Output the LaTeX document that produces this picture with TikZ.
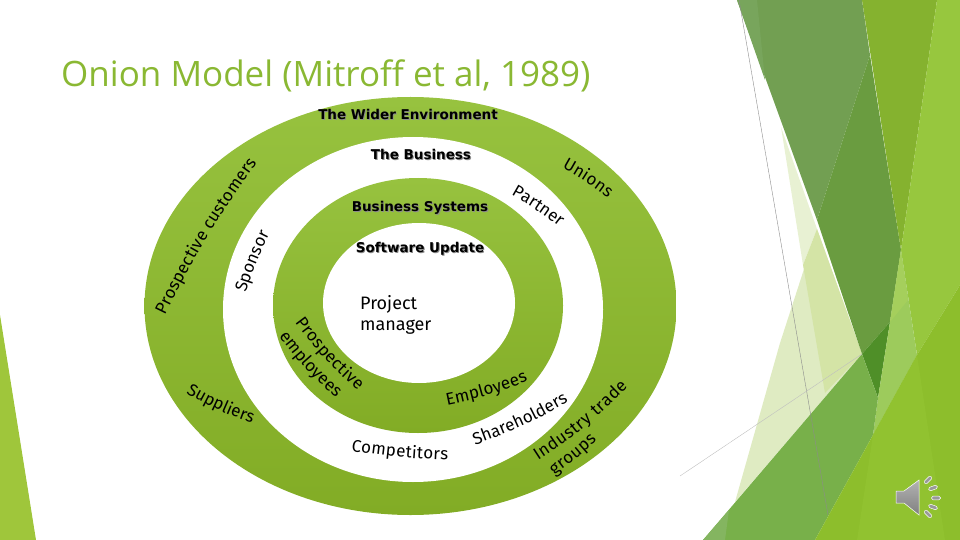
\documentclass[tikz,border=0pt]{standalone}
\usepackage{fontspec}
\setmainfont{Fira Sans}
\newfontfamily\titlefont{Open Sans}
\newfontfamily\heavyfont{DejaVu Sans}
\usetikzlibrary{decorations.text}
\definecolor{titlegreen}{HTML}{8AB833}
\definecolor{ringtop}{HTML}{97C23F}
\definecolor{ringbot}{HTML}{82AC25}
\definecolor{paleA}{HTML}{E8F1D3}
\definecolor{paleB}{HTML}{DFEBC2}
\definecolor{paleC}{HTML}{D4E4A6}
\definecolor{darkA}{HTML}{729F52}
\definecolor{darkB}{HTML}{78A55C}
\definecolor{darkC}{HTML}{6A9C40}
\definecolor{darkD}{HTML}{4F8F28}
\definecolor{midA}{HTML}{85B22F}
\definecolor{lightA}{HTML}{97C73E}
\definecolor{lightB}{HTML}{9DCB5C}
\definecolor{lightC}{HTML}{8DBE2C}
\definecolor{lightD}{HTML}{91C230}
\definecolor{lightE}{HTML}{A5CF5C}
\definecolor{lowA}{HTML}{78B04A}
\definecolor{lowB}{HTML}{84B560}
\definecolor{sideA}{HTML}{9FC63B}
\newcommand{\wordfont}{\fontsize{17}{17}\selectfont}
\newcommand{\shadowed}[1]{\leavevmode\rlap{\hspace{0.9pt}\raisebox{-0.9pt}{\textcolor{black!45}{#1}}}#1}
\tikzset{
	ring/.style={top color=ringtop, bottom color=ringbot, draw=none},
	hole/.style={fill=white, draw=none},
	heavy/.style={font=\heavyfont\bfseries\fontsize{13.5}{14}\selectfont, inner sep=0pt, text=black},
	wordart/.style={decorate, decoration={text along path, text align={fit to path}, text={|\wordfont|#1}}},
	tick/.style={fill=black!40, draw=white, line width=0.5pt, rounded corners=1.5pt}
}

\begin{document}
\begin{tikzpicture}[x=1pt, y=-1pt]
	%%%%% START %%%%%
	\useasboundingbox (0, 0) rectangle (960, 540);

	% side facets
	\fill[sideA] (0, 315) -- (36, 540) -- (0, 540) -- cycle;

	\fill[paleA] (781, 127) -- (817, 229) -- (803, 265) -- cycle;
	\fill[paleB] (817, 229) -- (780, 343) -- (735, 502) -- (862, 354) -- cycle;
	\fill[paleC] (817, 229) -- (803, 265) -- (825, 393) -- (862, 354) -- cycle;

	\fill[darkA] (737, 0) -- (862, 0) -- (870, 55) -- (817, 220) -- cycle;
	\fill[darkB] (737, 0) -- (757, 0) -- (765, 80) -- cycle;
	\fill[darkC] (870, 55) -- (901, 250) -- (890, 322) -- (862, 354) -- (817, 220) -- cycle;
	\fill[darkD] (862, 354) -- (890, 322) -- (878, 398) -- cycle;
	\fill[midA] (862, 0) -- (937, 0) -- (901, 250) -- cycle;
	\fill[lightA] (937, 0) -- (960, 0) -- (960, 285) -- (917, 355) -- (901, 250) -- cycle;
	\fill[lightB] (901, 250) -- (917, 355) -- (873, 435) -- (878, 398) -- (890, 322) -- cycle;
	\fill[lightE] (901, 250) -- (908, 300) -- (890, 322) -- cycle;
	\fill[lowA] (703, 540) -- (862, 354) -- (878, 398) -- (873, 435) -- (815, 540) -- cycle;
	\fill[lowB] (703, 540) -- (729, 510) -- (725, 540) -- cycle;
	\fill[lightC] (815, 540) -- (873, 435) -- (917, 355) -- (960, 285) -- (960, 540) -- cycle;
	\fill[lightD] (857, 540) -- (873, 435) -- (917, 355) -- (945, 540) -- cycle;

	\draw[black!45, line width=0.4pt] (739, 0) -- (828, 515);
	\draw[black!25, line width=0.4pt] (680, 476) -- (862, 354);

	% speaker
	\draw[white, line width=0.5pt, top color=black!30, bottom color=black!50] (896, 491) -- (904, 491) -- (919, 480) -- (919, 515) -- (904, 503) -- (896, 503) -- cycle;
	\foreach \x/\y/\a in {928/480/45, 933/488/20, 936/498/0, 933/507/-20, 928/514/-45} {
		\draw[tick, shift={(\x, \y)}, rotate=\a] (-4.5, -1.8) rectangle (4.5, 1.8);
	}

	% rings
	\path[ring] (410.5, 306) ellipse (266pt and 209pt);
	\path[hole] (413, 309.5) ellipse (190pt and 172.5pt);
	\path[ring] (418, 305.5) ellipse (145pt and 127.5pt);
	\path[hole] (419, 303) ellipse (96pt and 80pt);

	% title and headings
	\node[anchor=base west, inner sep=0pt, text=titlegreen, font=\titlefont\fontsize{35}{35}\selectfont] (title) at (61, 87) {Onion Model (Mitroff et al, 1989)};
	\node[heavy] (wider) at (408, 115) {\shadowed{The Wider Environment}};
	\node[heavy] (business) at (421, 155) {\shadowed{The Business}};
	\node[heavy] (systems) at (420, 208) {\shadowed{Business Systems}};
	\node[heavy] (update) at (420, 249) {\shadowed{Software Update}};
	\node[anchor=north west, inner sep=0pt, align=left, font=\fontsize{18}{21}\selectfont] (manager) at (360, 295) {Project\\manager};

	% curved labels
	\path[wordart={Prospective customers}] (165, 316) to[bend left=5] (257, 163);
	\path[wordart={Sponsor}] (246, 293) to[bend left=5] (269, 235);
	\path[wordart={Unions}] (562, 168) to[bend left=4] (608, 198);
	\path[wordart={Partner}] (511, 195) to[bend left=4] (558, 226);
	\path[wordart={Suppliers}] (186, 393) to[bend right=5] (251, 423);
	\path[wordart={Competitors}] (351, 451) to[bend right=3] (448, 460);
	\path[wordart={Employees}] (447, 405) to[bend right=5] (528, 381);
	\path[wordart={Shareholders}] (475, 445) to[bend right=5] (568, 402);
	\path[wordart={Industry trade}] (538, 460) to[bend right=6] (628, 387);
	\path[wordart={groups}] (554, 475) to[bend right=4] (597, 440);
	\path[wordart={Prospective}] (295, 322) to[bend right=6] (358, 391);
	\path[wordart={employees}] (279, 336) to[bend right=6] (336, 398);
	%%%%% END %%%%%
\end{tikzpicture}
\end{document}
